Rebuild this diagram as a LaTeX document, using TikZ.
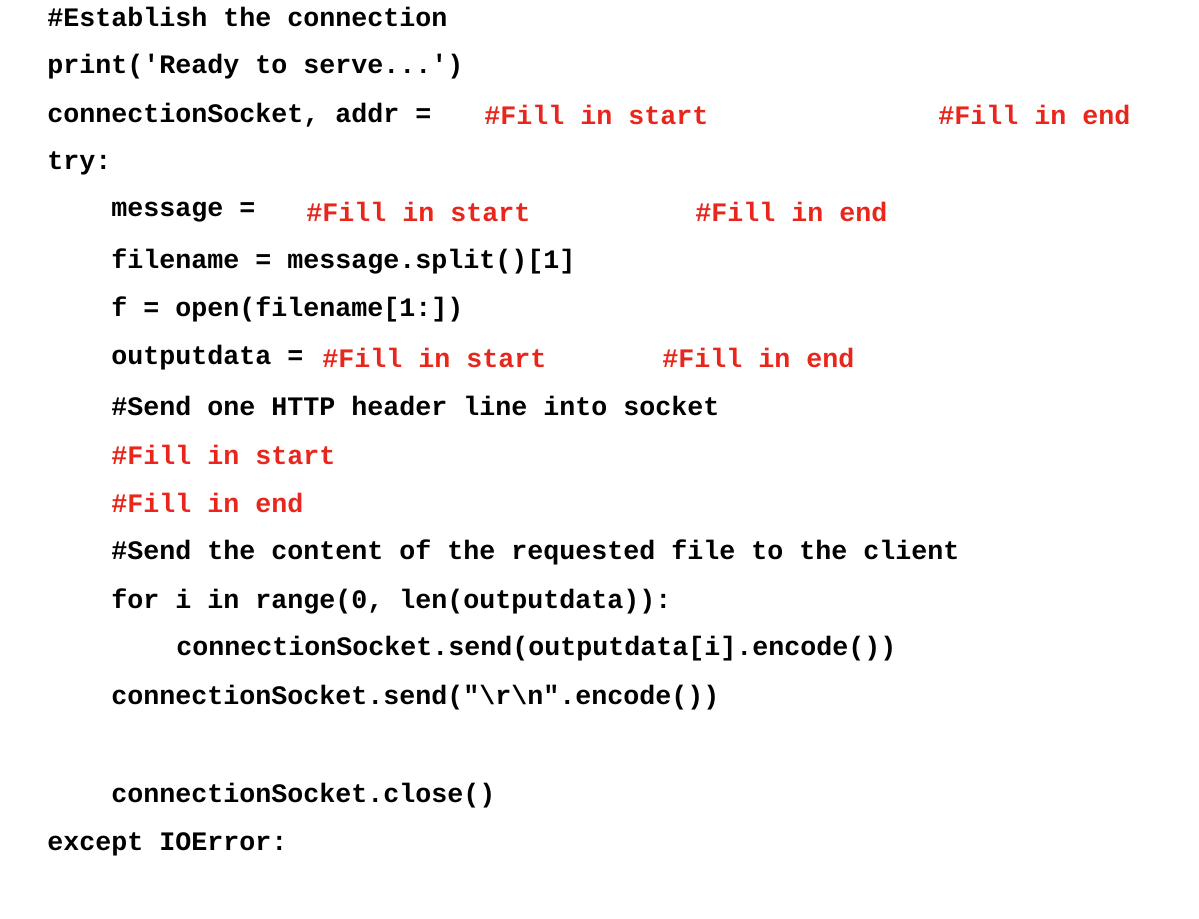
\documentclass[tikz,border=0pt]{standalone}
\usepackage{fontspec}
\setmonofont{Liberation Mono}[BoldFont={Liberation Mono Bold}]
\definecolor{fillred}{RGB}{232,38,28}
\begin{document}
\begin{tikzpicture}[x=0.75pt,y=-0.75pt,
  code/.style={anchor=west,inner sep=0,font=\fontsize{20}{24}\selectfont\ttfamily\bfseries},
  red/.style={code,text=fillred}]
\useasboundingbox (0,0) rectangle (1199,918);
\node[code] (l1) at (47,17) {\#Establish the connection};
\node[code] (l2) at (47,67) {print('Ready to serve...')};
\node[code] (l3) at (47,115) {connectionSocket, addr =};
\node[red] (r3a) at (484,115) {\#Fill in start};
\node[red] (r3b) at (938,115) {\#Fill in end};
\node[code] (l4) at (47,163) {try:};
\node[code] (l5) at (111,212) {message =};
\node[red] (r5a) at (306,212) {\#Fill in start};
\node[red] (r5b) at (695,212) {\#Fill in end};
\node[code] (l6) at (111,261) {filename = message.split()[1]};
\node[code] (l7) at (111,309) {f = open(filename[1:])};
\node[code] (l8) at (111,358) {outputdata =};
\node[red] (r8a) at (322,358) {\#Fill in start};
\node[red] (r8b) at (662,358) {\#Fill in end};
\node[code] (l9) at (111,406) {\#Send one HTTP header line into socket};
\node[red] (l10) at (111,455) {\#Fill in start};
\node[red] (l11) at (111,503) {\#Fill in end};
\node[code] (l12) at (111,552) {\#Send the content of the requested file to the client};
\node[code] (l13) at (111,601) {for i in range(0, len(outputdata)):};
\node[code] (l14) at (176,649) {connectionSocket.send(outputdata[i].encode())};
\node[code] (l15) at (111,698) {connectionSocket.send("\textbackslash r\textbackslash n".encode())};
\node[code] (l16) at (111,796) {connectionSocket.close()};
\node[code] (l17) at (47,844) {except IOError:};
\end{tikzpicture}
\end{document}
